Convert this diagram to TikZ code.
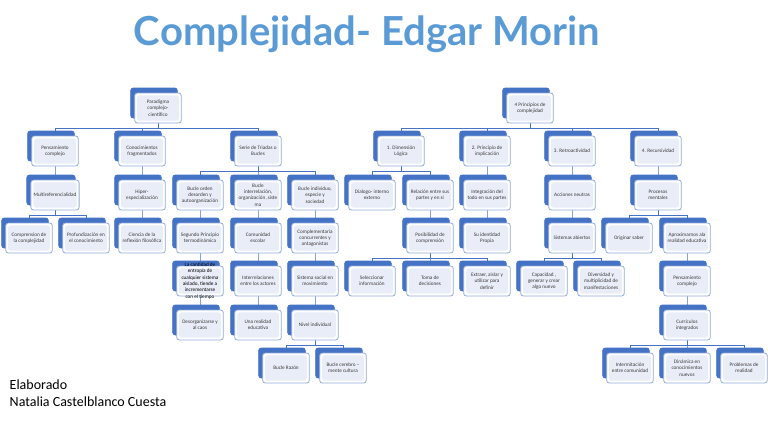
\documentclass[tikz,border=0pt]{standalone}
\usepackage{fontspec}
\setmainfont{Carlito}
\newfontfamily\titulo{Lato}
\usetikzlibrary{shadows,backgrounds}

\definecolor{azultitulo}{HTML}{5B9BD5}
\definecolor{azulosc}{HTML}{4472C4}
\definecolor{azulborde}{HTML}{8FAADC}
\definecolor{lavanda}{HTML}{E9EDF7}
\definecolor{gristexto}{HTML}{3A3A3A}

\tikzset{
  caja/.style={draw=azulborde, line width=0.6pt, fill=white, rounded corners=2pt,
    minimum width=35pt, minimum height=22.5pt, inner xsep=2pt, inner ysep=1pt,
    align=center, font=\fontsize{3.9}{4.7}\selectfont, text=gristexto,
    copy shadow={shadow xshift=-3pt, shadow yshift=3.75pt, fill=azulosc, draw=azulosc},
    path picture={\fill[lavanda] ([shift={(1.8pt,1.8pt)}]path picture bounding box.south west)
      rectangle ([shift={(-1.8pt,-1.8pt)}]path picture bounding box.north east);}},
  conector/.style={draw=azulosc, line width=0.7pt}
}

\begin{document}
\begin{tikzpicture}[x=0.75pt,y=-0.75pt]
\useasboundingbox (0,0) rectangle (768,433);

\node[font=\titulo\bfseries\fontsize{30}{36}\selectfont, text=azultitulo, anchor=base] (titulo) at (367,45) {Complejidad- Edgar Morin};

% arbol izquierdo
\node[caja] (p0) at (158,108) {Paradigma\\complejo-\\científico};
\node[caja] (a1) at (55,151) {Pensamiento\\complejo};
\node[caja] (a2) at (55,195) {Multireferencialidad};
\node[caja] (a3a) at (29,238) {Comprension de\\la complejidad};
\node[caja] (a3b) at (86,238) {Profundización en\\el conocimiento};
\node[caja] (b1) at (142,151) {Conocimientos\\fragmentados};
\node[caja] (b2) at (142,195) {Hiper-\\especialización};
\node[caja] (b3) at (142,238) {Ciencia de la\\reflexión filosófica};
\node[caja] (c1) at (258,151) {Serie de Triadas o\\Bucles};
\node[caja] (c2a) at (200,195) {Bucle orden\\desorden y\\autoorganización};
\node[caja] (c2b) at (258,195) {Bucle\\interrelación,\\organización ,siste\\ma};
\node[caja] (c2c) at (315,195) {Bucle individuo,\\especie y\\sociedad};
\node[caja] (c3a) at (200,238) {Segundo Principio\\termodinámica};
\node[caja] (c3b) at (258,238) {Comunidad\\escolar};
\node[caja] (c3c) at (315,238) {Complementaria\\concurrentes y\\antagonistas};
\node[caja, label={[font=\fontsize{3.9}{4.7}\selectfont, text=black, align=center]center:La cantidad de\\entropía de\\cualquier sistema\\aislado, tiende a\\incrementarse\\con el tiempo}] (c4a) at (200,281) {};
\node[caja] (c4b) at (258,281) {Interrelaciones\\entre los actores};
\node[caja] (c4c) at (315,281) {Sistema social en\\movimiento};
\node[caja] (c5a) at (200,325) {Desorganizarse y\\al caos};
\node[caja] (c5b) at (258,325) {Una realidad\\educativa};
\node[caja] (c5c) at (315,325) {Nivel individual};
\node[caja] (c6a) at (286,368) {Bucle Razón};
\node[caja] (c6b) at (343,368) {Bucle cerebro --\\mente cultura};

% arbol derecho
\node[caja] (q0) at (530,108) {4 Principios de\\complejidad};
\node[caja] (d1) at (401,151) {1. Dimensión\\Lógica};
\node[caja] (e1) at (487,151) {2. Principio de\\implicación};
\node[caja] (f1) at (572,151) {3. Retroactividad};
\node[caja] (g1) at (658,151) {4. Recursividad};
\node[caja] (d2a) at (372,195) {Dialogo- interno\\externo};
\node[caja] (d2b) at (430,195) {Relación entre sus\\partes y en sí};
\node[caja] (e2) at (487,195) {Integración del\\todo en sus partes};
\node[caja] (f2) at (572,195) {Acciones neutras};
\node[caja] (g2) at (658,195) {Procesos\\mentales};
\node[caja] (d3) at (430,238) {Posibilidad de\\comprensión};
\node[caja] (e3) at (487,238) {Su identidad\\Propia};
\node[caja] (f3) at (572,238) {Sistemas abiertos};
\node[caja] (g3a) at (629,238) {Originar saber};
\node[caja] (g3b) at (687,238) {Aproximarnos ala\\realidad educativa};
\node[caja] (d4a) at (372,281) {Seleccionar\\información};
\node[caja] (d4b) at (430,281) {Toma de\\decisiones};
\node[caja] (d4c) at (487,281) {Extraer, aislar y\\utilizar para\\definir};
\node[caja] (f4a) at (544,281) {Capacidad ,\\generar y crear\\algo nuevo};
\node[caja] (f4b) at (601,281) {Diversidad y\\multiplicidad de\\manifestaciones};
\node[caja] (g4) at (687,281) {Pensamiento\\complejo};
\node[caja] (g5) at (687,325) {Currículos\\integrados};
\node[caja] (g6a) at (630,368) {Intermitación\\entre comunidad};
\node[caja] (g6b) at (687,368) {Dinámica en\\conocimientos\\nuevos};
\node[caja] (g6c) at (744,368) {Problemas de\\realidad};

\node[anchor=base west, align=left, font=\fontsize{10.5}{12.75}\selectfont] (autora) at (5,406) {Elaborado\\Natalia Castelblanco Cuesta};

\begin{scope}[on background layer]
  \fill[white] (0,0) rectangle (768,433);
  \foreach \a/\b in {p0/a1,p0/b1,p0/c1,a1/a2,a2/a3a,a2/a3b,b1/b2,b2/b3,
      c1/c2a,c1/c2b,c1/c2c,c2a/c3a,c3a/c4a,c4a/c5a,c2b/c3b,c3b/c4b,c4b/c5b,
      c2c/c3c,c3c/c4c,c4c/c5c,c5c/c6a,c5c/c6b,
      q0/d1,q0/e1,q0/f1,q0/g1,d1/d2a,d1/d2b,d2b/d3,d3/d4a,d3/d4b,d3/d4c,
      e1/e2,e2/e3,f1/f2,f2/f3,f3/f4a,f3/f4b,g1/g2,g2/g3a,g2/g3b,g3b/g4,
      g4/g5,g5/g6a,g5/g6b,g5/g6c}
    \draw[conector] (\a.south) -- ++(0,5) -| (\b.north);
\end{scope}
\end{tikzpicture}
\end{document}
